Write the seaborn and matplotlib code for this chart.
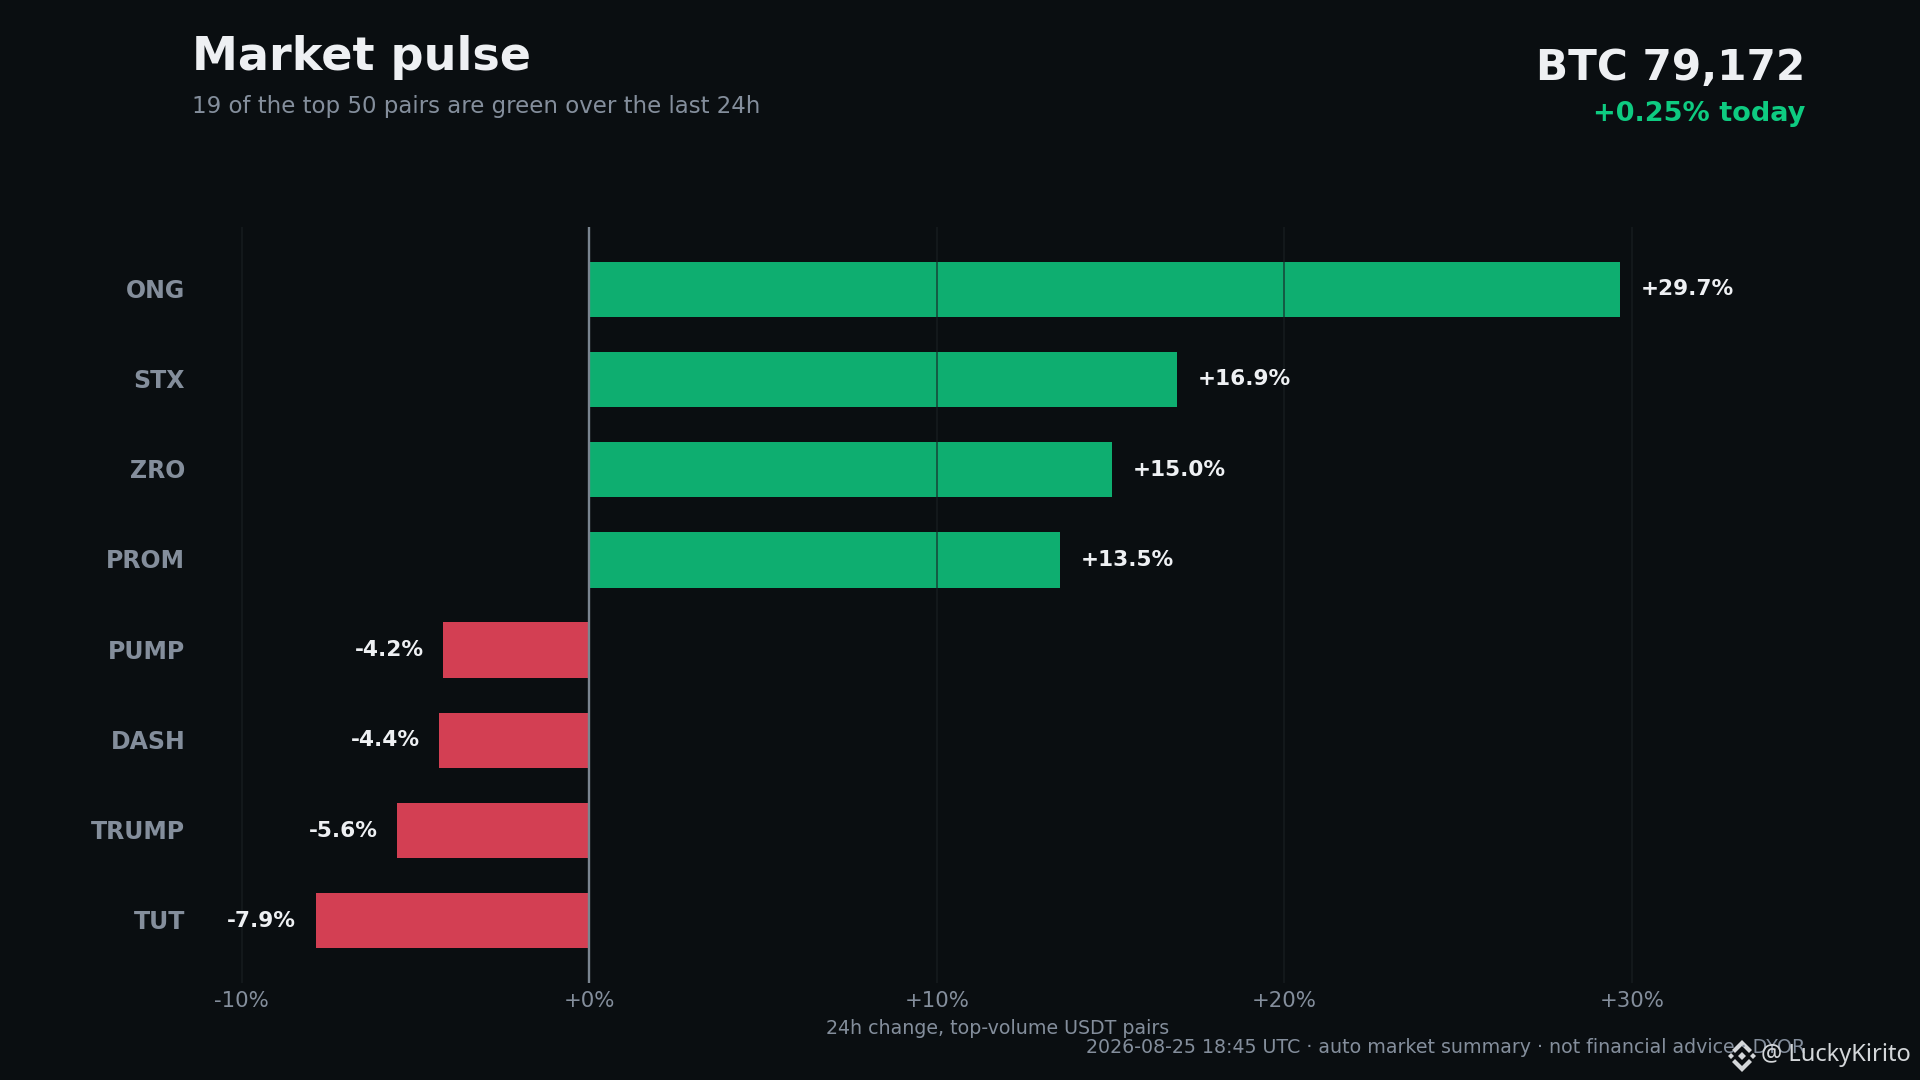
import matplotlib
matplotlib.use("Agg")
import matplotlib.pyplot as plt
from matplotlib.patches import Polygon
from matplotlib.transforms import ScaledTranslation
import pandas as pd
import seaborn as sns

symbols = ["ONG", "STX", "ZRO", "PROM", "PUMP", "DASH", "TRUMP", "TUT"]
changes = [29.65, 16.9, 15.05, 13.55, -4.2, -4.32, -5.53, -7.87]
tick_values = [-10, 0, 10, 20, 30]
tick_labels = ["-10%", "+0%", "+10%", "+20%", "+30%"]
value_labels = ["+29.7%", "+16.9%", "+15.0%", "+13.5%", "-4.2%", "-4.4%", "-5.6%", "-7.9%"]

BG = "#0a0e11"
GREEN = "#0eae70"
RED = "#d33f53"
GREY = "#848e9c"
W, H = 1920, 1080

sns.set_theme(style="dark")
plt.rcParams["font.family"] = ["DejaVu Sans"]
fig = plt.figure(figsize=(19.2, 10.8), dpi=100, facecolor=BG)
ax = fig.add_axes([190 / W, 1 - 983 / H, (1805 - 190) / W, (983 - 227) / H], facecolor=BG)

df = pd.DataFrame({"symbol": symbols, "change": changes})
df["side"] = ["up" if c >= 0 else "down" for c in changes]
sns.barplot(data=df, y="symbol", x="change", hue="side", dodge=False, legend=False,
            palette={"up": GREEN, "down": RED}, width=0.615, saturation=1,
            linewidth=0, edgecolor="none", ax=ax, zorder=2)

ax.set_xlim(-11.49, 34.98)
ax.set_ylim(7.69, -0.69)
ax.set_xticks(tick_values, tick_labels)
ax.grid(False)
for t in tick_values:
    if t != 0:
        ax.axvline(t, color="#1a2024", lw=1.1, alpha=0.75, zorder=3)
ax.axvline(0, color="#7a8590", lw=1.7, zorder=4)
for s in ax.spines.values():
    s.set_visible(False)
ax.set_ylabel("")
ax.set_xlabel("24h change, top-volume USDT pairs", color=GREY, fontsize=13.7, labelpad=6)
ax.tick_params(axis="x", length=0, pad=5.5, labelsize=15.3, labelcolor=GREY)
ax.tick_params(axis="y", length=0, pad=3.5, labelsize=17, labelcolor=GREY)
for lab in ax.get_yticklabels():
    lab.set_fontweight("bold")
    lab.set_transform(lab.get_transform() + ScaledTranslation(0, 1 / 100, fig.dpi_scale_trans))

for i, (v, lab) in enumerate(zip(changes, value_labels)):
    off = 15 if v >= 0 else -14
    ax.annotate(lab, (v, i), xytext=(off, 0), textcoords="offset points",
                ha="left" if v >= 0 else "right", va="center",
                color="#eef0f3", fontsize=15.6, fontweight="bold")

fig.text(192 / W, 1 - 58 / H, "Market pulse", color="#eef0f3", fontsize=33.2, fontweight="bold", va="center")
fig.text(192 / W, 1 - 106 / H, "19 of the top 50 pairs are green over the last 24h",
         color=GREY, fontsize=16.5, va="center")
fig.text(1805 / W, 1 - 68 / H, "BTC 79,172", color="#eef0f3", fontsize=30.3, fontweight="bold", ha="right", va="center")
fig.text(1805 / W, 1 - 114 / H, "+0.25% today", color="#0ecb81", fontsize=19.5, fontweight="bold", ha="right", va="center")
fig.text(1805 / W, 1 - 1047.5 / H, "2026-08-25 18:45 UTC · auto market summary · not financial advice · DYOR",
         color=GREY, fontsize=13.72, ha="right", va="center")

fig.text(1911 / W, 1 - 1055 / H, "@ LuckyKirito", color="#d4d7da", fontsize=17, family="Noto Sans",
         ha="right", va="center")

# watermark logo, drawn in pixel offsets round its centre
LOGO = (1742, 1056)
logo_parts = [
    [(0, -16), (10, -6), (7, -3), (0, -10), (-7, -3), (-10, -6)],
    [(0, 16), (10, 6), (7, 3), (0, 10), (-7, 3), (-10, 6)],
    [(0, -4), (4, 0), (0, 4), (-4, 0)],
    [(-11, -3), (-8, 0), (-11, 3), (-14, 0)],
    [(11, -3), (14, 0), (11, 3), (8, 0)],
]
for part in logo_parts:
    fig.add_artist(Polygon([((LOGO[0] + dx) / W, 1 - (LOGO[1] + dy) / H) for dx, dy in part],
                           closed=True, transform=fig.transFigure, facecolor="#d4d7da", edgecolor="none"))

fig.savefig("out.png", dpi=100, facecolor=BG)
